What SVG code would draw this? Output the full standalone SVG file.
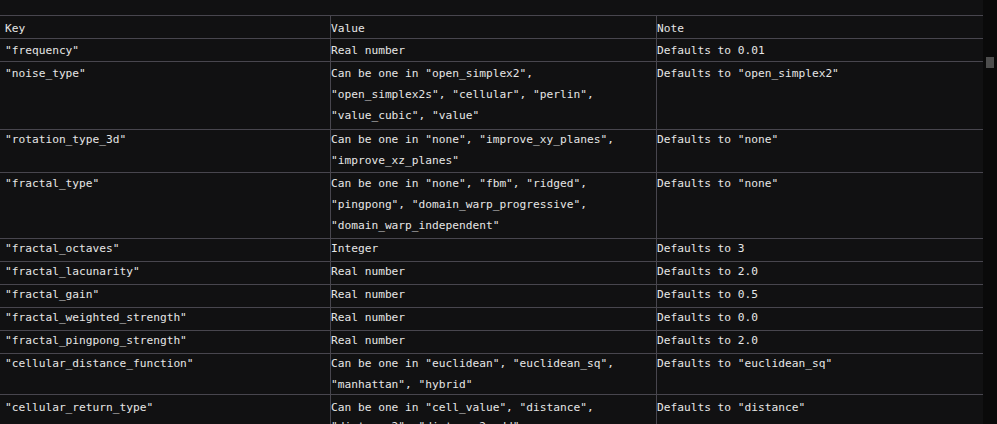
<svg xmlns="http://www.w3.org/2000/svg" width="997" height="424" viewBox="0 0 997 424">
<style>
text{font-family:"DejaVu Sans Mono","Liberation Mono",monospace;font-size:11.2px;fill:#e6e6e6}
.l{stroke:#48464e;stroke-width:1}
</style>
<rect width="997" height="424" fill="#111112"/>
<rect x="983" y="0" width="14" height="424" fill="#0a0a0a"/>
<rect x="986" y="57" width="8" height="11" fill="#4d4d4d"/>
<g id="connectors">
<line class="l" x1="0" y1="15.5" x2="983" y2="15.5"/>
<line class="l" x1="0" y1="38.5" x2="983" y2="38.5"/>
<line class="l" x1="0" y1="61.5" x2="983" y2="61.5"/>
<line class="l" x1="0" y1="129.5" x2="983" y2="129.5"/>
<line class="l" x1="0" y1="172.5" x2="983" y2="172.5"/>
<line class="l" x1="0" y1="238.5" x2="983" y2="238.5"/>
<line class="l" x1="0" y1="261.5" x2="983" y2="261.5"/>
<line class="l" x1="0" y1="284.5" x2="983" y2="284.5"/>
<line class="l" x1="0" y1="307.5" x2="983" y2="307.5"/>
<line class="l" x1="0" y1="330.5" x2="983" y2="330.5"/>
<line class="l" x1="0" y1="353.5" x2="983" y2="353.5"/>
<line class="l" x1="0" y1="394.5" x2="983" y2="394.5"/>
<line class="l" x1="330.5" y1="15" x2="330.5" y2="424"/>
<line class="l" x1="656.5" y1="15" x2="656.5" y2="424"/>
</g>
<g id="header"><text x="5" y="32">Key</text><text x="331" y="32">Value</text><text x="657" y="32">Note</text></g>
<g id="r1"><text x="5" y="54">"frequency"</text><text x="331" y="54">Real number</text><text x="657" y="54">Defaults to 0.01</text></g>
<g id="r2"><text x="5" y="77">"noise_type"</text><text x="331" y="77">Can be one in "open_simplex2",</text><text x="331" y="98">"open_simplex2s", "cellular", "perlin",</text><text x="331" y="119">"value_cubic", "value"</text><text x="657" y="77">Defaults to "open_simplex2"</text></g>
<g id="r3"><text x="5" y="143">"rotation_type_3d"</text><text x="331" y="143">Can be one in "none", "improve_xy_planes",</text><text x="331" y="164">"improve_xz_planes"</text><text x="657" y="143">Defaults to "none"</text></g>
<g id="r4"><text x="5" y="187">"fractal_type"</text><text x="331" y="187">Can be one in "none", "fbm", "ridged",</text><text x="331" y="208">"pingpong", "domain_warp_progressive",</text><text x="331" y="229">"domain_warp_independent"</text><text x="657" y="187">Defaults to "none"</text></g>
<g id="r5"><text x="5" y="252">"fractal_octaves"</text><text x="331" y="252">Integer</text><text x="657" y="252">Defaults to 3</text></g>
<g id="r6"><text x="5" y="275">"fractal_lacunarity"</text><text x="331" y="275">Real number</text><text x="657" y="275">Defaults to 2.0</text></g>
<g id="r7"><text x="5" y="298">"fractal_gain"</text><text x="331" y="298">Real number</text><text x="657" y="298">Defaults to 0.5</text></g>
<g id="r8"><text x="5" y="321">"fractal_weighted_strength"</text><text x="331" y="321">Real number</text><text x="657" y="321">Defaults to 0.0</text></g>
<g id="r9"><text x="5" y="344">"fractal_pingpong_strength"</text><text x="331" y="344">Real number</text><text x="657" y="344">Defaults to 2.0</text></g>
<g id="r10"><text x="5" y="367">"cellular_distance_function"</text><text x="331" y="367">Can be one in "euclidean", "euclidean_sq",</text><text x="331" y="388">"manhattan", "hybrid"</text><text x="657" y="367">Defaults to "euclidean_sq"</text></g>
<g id="r11"><text x="5" y="411">"cellular_return_type"</text><text x="331" y="411">Can be one in "cell_value", "distance",</text><text x="331" y="430">"distance2", "distance2_add",</text><text x="657" y="411">Defaults to "distance"</text></g>
</svg>
